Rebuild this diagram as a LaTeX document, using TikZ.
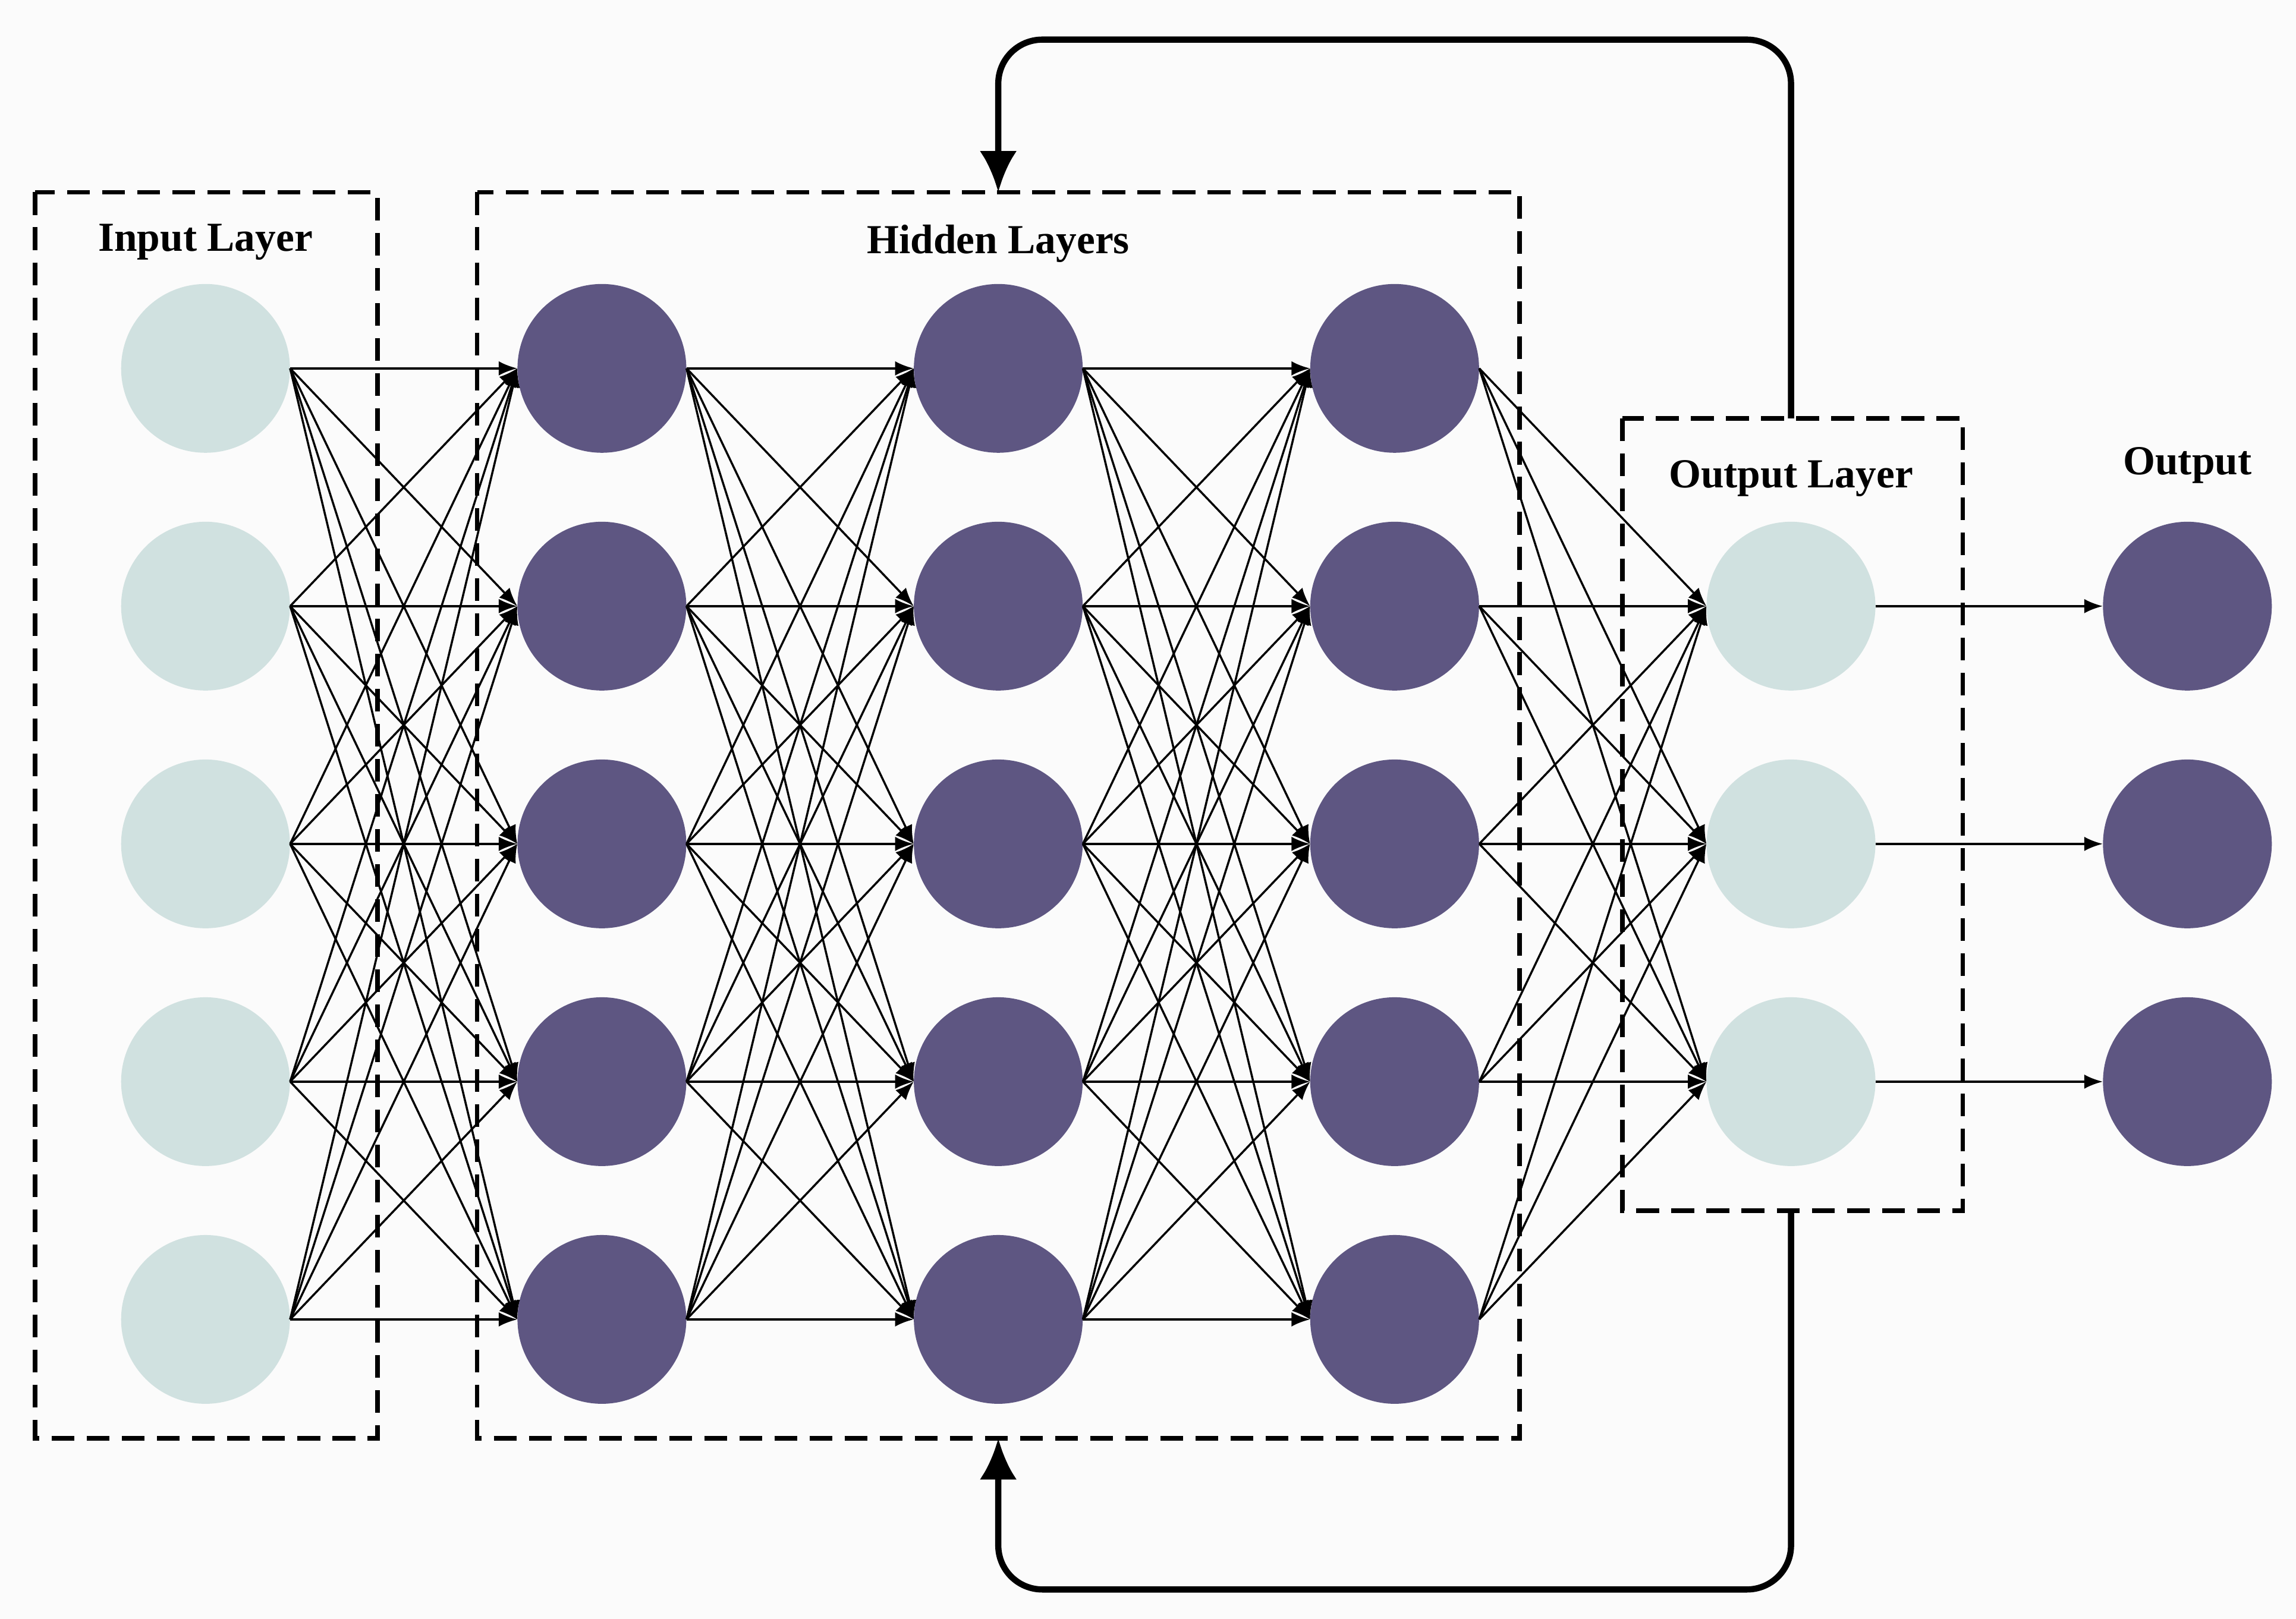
\documentclass[tikz,border=0pt]{standalone}
\usepackage{fontspec}
\setmainfont{Liberation Serif}
\usetikzlibrary{arrows.meta}
\definecolor{lite}{HTML}{D0E1E0}
\definecolor{dark}{HTML}{5E5682}
\definecolor{bg}{HTML}{FBFBFB}
\begin{document}
\begin{tikzpicture}[x=0.05cm,y=-0.05cm,
  neur/.style={circle,minimum size=5.75cm,inner sep=0,draw=none},
  inn/.style={neur,fill=lite},
  hid/.style={neur,fill=dark},
  edge/.style={line width=2pt,-{Latex[length=18pt,width=14pt]}},
  box/.style={line width=4.5pt,dash pattern=on 22pt off 12pt},
  fb/.style={line width=6pt,rounded corners=1.5cm,-{Latex[length=40pt,width=36pt]}},
  lab/.style={font=\fontsize{40}{48}\selectfont\bfseries}]
\fill[bg] (0,0) rectangle (1564,1103);
\useasboundingbox (0,0) rectangle (1564,1103);
\foreach \i/\y in {1/251,2/413,3/575,4/737,5/899}{
  \node[inn] (a\i) at (140,\y) {};
  \node[hid] (b\i) at (410,\y) {};
  \node[hid] (c\i) at (680,\y) {};
  \node[hid] (d\i) at (950,\y) {};
}
\foreach \i/\y in {1/413,2/575,3/737}{
  \node[inn] (e\i) at (1220,\y) {};
  \node[hid] (f\i) at (1490,\y) {};
}
\foreach \s/\t in {a/b,b/c,c/d}{
  \foreach \i in {1,...,5}{\foreach \j in {1,...,5}{
    \draw[edge] (\s\i.east) -- (\t\j.west);}}}
\foreach \i in {1,...,5}{\foreach \j in {1,2,3}{\draw[edge] (d\i.east) -- (e\j.west);}}
\foreach \j in {1,2,3}{\draw[edge] (e\j) -- (f\j);}
\draw[box] (24,131) rectangle (257,980);
\draw[box] (325,131) rectangle (1035,980);
\draw[box] (1105,285) rectangle (1337,825);
\coordinate (ot) at (1220,285); \coordinate (ob) at (1220,825);
\coordinate (ht) at (680,131); \coordinate (hb) at (680,980);
\draw[fb] (ot) -- (1220,27) -- (680,27) -- (ht);
\draw[fb] (ob) -- (1220,1083) -- (680,1083) -- (hb);
\node[lab] (l1) at (140,165) {Input Layer};
\node[lab] (l2) at (680,166) {Hidden Layers};
\node[lab] (l3) at (1220,326) {Output Layer};
\node[lab] (l4) at (1490,317) {Output};
\end{tikzpicture}
\end{document}
